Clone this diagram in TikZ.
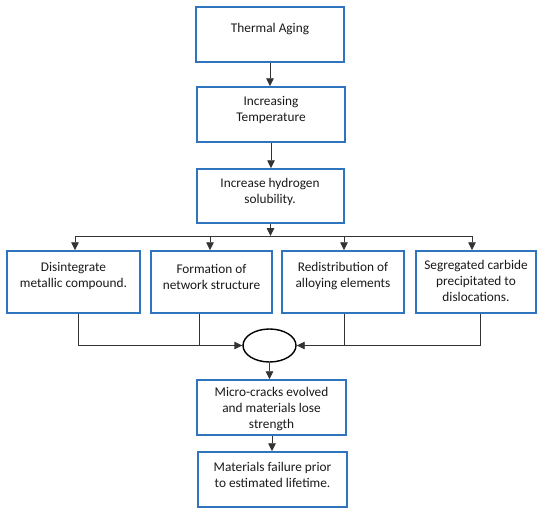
\documentclass[tikz,border=0pt]{standalone}
\usepackage{fontspec}
\setmainfont{Carlito}
\usetikzlibrary{arrows.meta,shapes.geometric}
\definecolor{boxblue}{RGB}{46,117,190}
\begin{document}
\begin{tikzpicture}[x=1pt,y=-1pt,
  box/.style={draw=boxblue,line width=1.5pt,inner sep=0pt},
  txt/.style={font=\fontsize{13.3}{16}\selectfont,align=center,inner sep=0pt,text=black!90},
  conn/.style={draw=black!80,line width=0.9pt},
  arr/.style={conn,-{Triangle[length=8pt,width=7.5pt]}}]
\useasboundingbox (0,0) rectangle (550,514);
% boxes
\node[box,minimum width=148pt,minimum height=55pt] (b1) at (270,34.5) {};
\node[box,minimum width=148pt,minimum height=55pt] (b2) at (271,114.5) {};
\node[box,minimum width=147pt,minimum height=54pt] (b3) at (270.5,196) {};
\node[box,minimum width=133pt,minimum height=62pt] (ba) at (73.5,282) {};
\node[box,minimum width=121pt,minimum height=62pt] (bb) at (211.5,282) {};
\node[box,minimum width=122pt,minimum height=62pt] (bc) at (343,282) {};
\node[box,minimum width=120pt,minimum height=62pt] (bd) at (476,282) {};
\node[draw=black,line width=1.4pt,ellipse,minimum width=53pt,minimum height=33pt,inner sep=0pt] (ell) at (269.5,345.5) {};
\node[box,minimum width=149pt,minimum height=55pt] (be) at (271.5,407.5) {};
\node[box,minimum width=149pt,minimum height=55pt] (bf) at (272.5,479.5) {};
% texts
\node[txt] (t1) at (270,29) {Thermal Aging};
\node[txt] (t2) at (271,110) {Increasing\\Temperature};
\node[txt] (t3) at (270,192) {Increase hydrogen\\solubility.};
\node[txt] (ta) at (73.5,276) {Disintegrate\\metallic compound.};
\node[txt] (tb) at (211.5,276.5) {Formation of\\network structure};
\node[txt] (tc) at (343,276) {Redistribution of\\alloying elements};
\node[txt] (td) at (476,281) {Segregated carbide\\precipitated to\\dislocations.};
\begin{scope}
\clip (197,380) rectangle (346,430.5);
\node[txt] (te) at (271.5,409.5) {Micro-cracks evolved\\and materials lose\\strength};
\end{scope}
\node[txt] (tf) at (272.5,475) {Materials failure prior\\to estimated lifetime.};
% connectors
\coordinate (j) at (271,236);
\coordinate (jl) at (75,236);
\coordinate (jr) at (472,236);
\coordinate (jb) at (210,236);
\coordinate (jc) at (344,236);
\draw[arr] (b1.south) -- (b1.south |- b2.north);
\draw[arr] (b2.south) -- (b2.south |- b3.north);
\draw[arr] (b3.south) -- (b3.south |- j);
\draw[conn] (jl) -- (jr);
\draw[arr] (jl) -- (jl |- ba.north);
\draw[arr] (jb) -- (jb |- bb.north);
\draw[arr] (jc) -- (jc |- bc.north);
\draw[arr] (jr) -- (jr |- bd.north);
\draw[conn] ([xshift=-12.5pt]bb.south) |- (ell.west);
\draw[arr] ([xshift=4.5pt]ba.south) |- (ell.west);
\draw[conn] ([xshift=1pt]bc.south) |- (ell.east);
\draw[arr] ([xshift=4pt]bd.south) |- (ell.east);
\draw[arr] (ell.south) -- (ell.south |- be.north);
\draw[arr] ([xshift=0.5pt]be.south) -- ([xshift=0.5pt]be.south |- bf.north);
\end{tikzpicture}
\end{document}
